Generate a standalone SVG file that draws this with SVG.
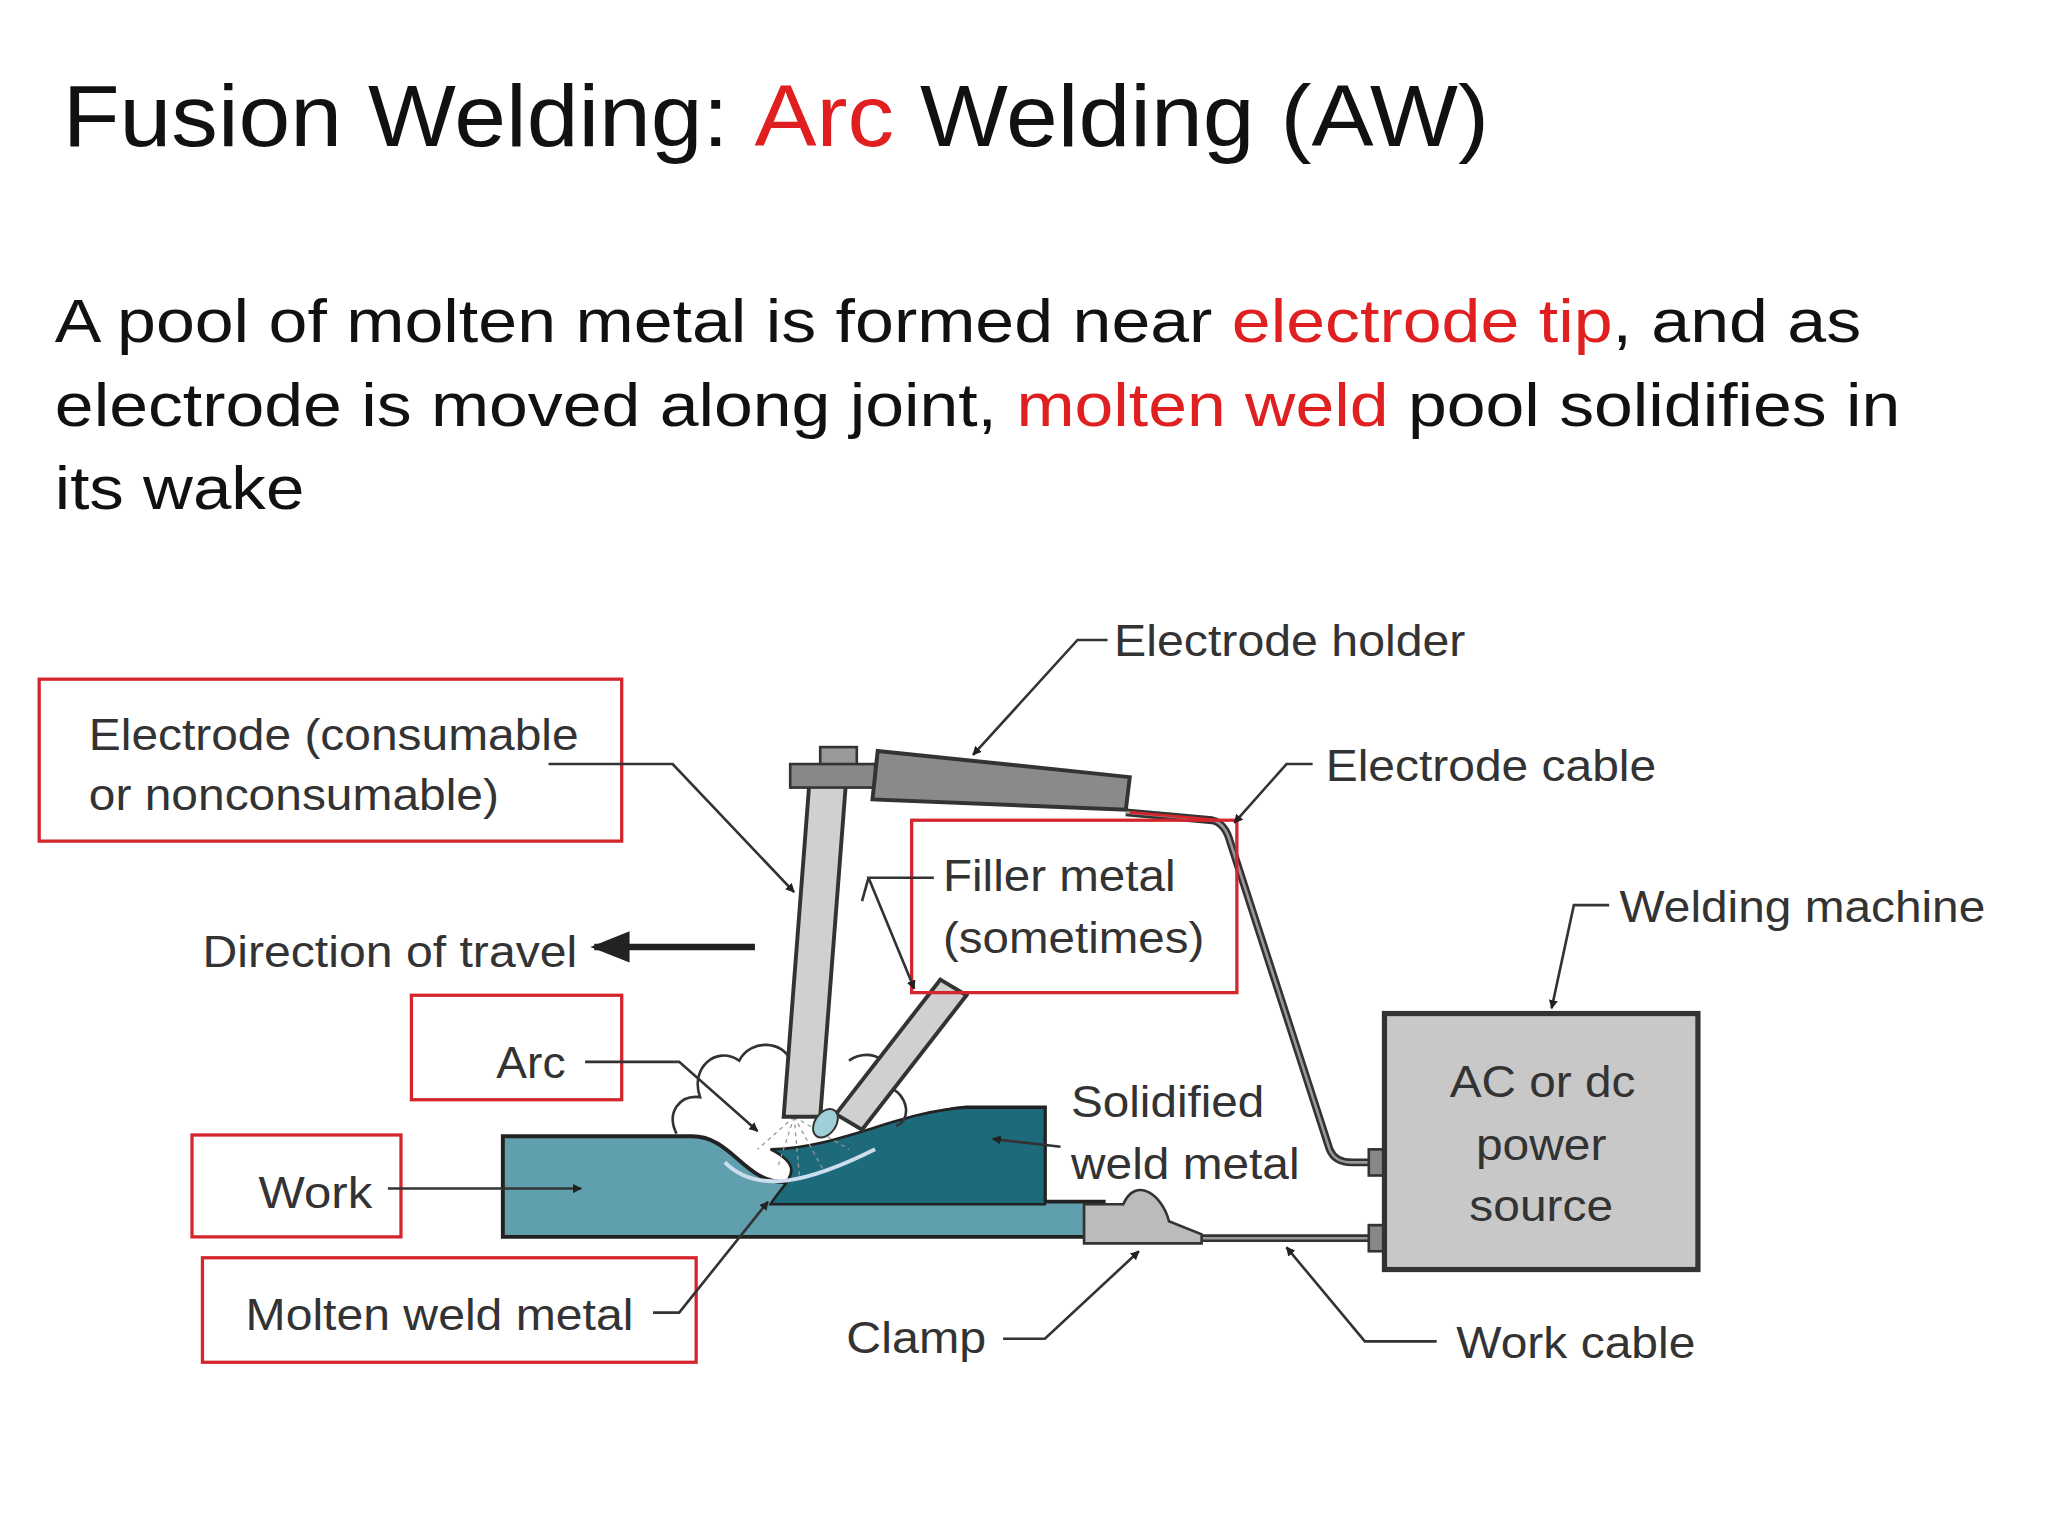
<svg xmlns="http://www.w3.org/2000/svg" width="2048" height="1536" viewBox="0 0 2048 1536">
<defs>
<marker id="ah" viewBox="0 0 10 10" refX="9" refY="5" markerWidth="7" markerHeight="7" orient="auto" markerUnits="userSpaceOnUse"><path d="M0,0 L10,5 L0,10 z" fill="#222"/></marker>
<marker id="ahb" viewBox="0 0 10 10" refX="9" refY="5" markerWidth="30" markerHeight="30" orient="auto" markerUnits="userSpaceOnUse"><path d="M0,1 L10,5 L0,9 z" fill="#222"/></marker>
</defs>
<style>
.t{font-family:"Liberation Sans",Arial,sans-serif;fill:#111}
.l{font-family:"Liberation Sans",Arial,sans-serif;fill:#333;font-size:34px}
.r{fill:#e02020}
.box{fill:none;stroke:#d4242c;stroke-width:2.5}
.ld{fill:none;stroke:#333;stroke-width:2;marker-end:url(#ah)}
.ln{fill:none;stroke:#333;stroke-width:2}
</style>
<rect width="2048" height="1536" fill="#fff"/>
<g transform="scale(1.3061)">
<text class="t" x="48" y="112" font-size="66" textLength="1092" lengthAdjust="spacingAndGlyphs">Fusion Welding: <tspan class="r">Arc</tspan> Welding (AW)</text>
<text class="t" x="42" y="262" font-size="47" textLength="1383" lengthAdjust="spacingAndGlyphs">A pool of molten metal is formed near <tspan class="r">electrode tip</tspan>, and as</text>
<text class="t" x="42" y="326" font-size="47" textLength="1413" lengthAdjust="spacingAndGlyphs">electrode is moved along joint, <tspan class="r">molten weld</tspan> pool solidifies in</text>
<text class="t" x="42" y="390" font-size="47" textLength="191" lengthAdjust="spacingAndGlyphs">its wake</text>

<g id="work">
<path d="M385,870 L530,870 C560,870 570,905 600,905 C640,905 690,850 740,848 L800,848 L800,920 L845,920 L845,947 L385,947 Z" fill="#5f9fae" stroke="#222" stroke-width="3"/>
<path d="M590,880 C640,880 690,850 740,848 L800,848 L800,922 L590,922 C600,905 620,895 590,880 Z" fill="#1d6a7a" stroke="#222" stroke-width="2"/>
<path d="M555,890 C580,915 620,905 670,880" fill="none" stroke="#cde" stroke-width="3"/>
</g>
<g id="arc">
<path d="M518,868 C510,852 520,838 536,840 C528,818 548,800 566,812 C575,795 600,797 605,812 M650,812 C668,800 688,815 680,832 C696,838 698,858 686,862" fill="none" stroke="#333" stroke-width="2"/>
<g stroke="#999" stroke-width="1" stroke-dasharray="3,3"><path d="M608,855 L580,880"/><path d="M608,855 L595,895"/><path d="M608,855 L612,900"/><path d="M608,855 L630,895"/><path d="M608,855 L650,880"/></g>
</g>
<g id="electrode">
<path d="M620,595 L648,595 L628,855 L600,855 Z" fill="#d0d0d0" stroke="#333" stroke-width="3"/>
<rect x="628" y="572" width="28" height="16" fill="#999" stroke="#333" stroke-width="2"/>
<rect x="605" y="585" width="65" height="18" fill="#888" stroke="#333" stroke-width="2"/>
</g>
<g id="holder">
<path d="M672,575 L865,595 L862,620 L668,612 Z" fill="#8a8a8a" stroke="#333" stroke-width="3"/>
</g>
<g id="filler">
<path d="M720,750 L740,762 L660,865 L640,853 Z" fill="#d0d0d0" stroke="#333" stroke-width="3"/>
<ellipse cx="632" cy="860" rx="8" ry="12" transform="rotate(35 632 860)" fill="#9fd0d8" stroke="#333" stroke-width="1.5"/>
</g>
<g id="cables">
<path d="M862,622 L928,628 Q938,630 942,645 L1018,880 Q1022,890 1035,890 L1058,890" fill="none" stroke="#333" stroke-width="6"/>
<path d="M862,622 L928,628 Q938,630 942,645 L1018,880 Q1022,890 1035,890 L1058,890" fill="none" stroke="#999" stroke-width="2"/>
<path d="M865,622 L935,628" stroke="#d4242c" stroke-width="2"/>
<path d="M915,948 L1058,948" stroke="#333" stroke-width="6"/>
<path d="M915,948 L1058,948" stroke="#999" stroke-width="2"/>
<path d="M830,922 L860,922 C870,900 890,915 895,935 L920,945 L920,952 L830,952 Z" fill="#bbb" stroke="#333" stroke-width="2"/>
<rect x="1048" y="880" width="12" height="20" fill="#888" stroke="#333" stroke-width="2"/>
<rect x="1048" y="938" width="12" height="20" fill="#888" stroke="#333" stroke-width="2"/>
</g>
<g id="machine">
<rect x="1060" y="776" width="240" height="196" fill="#c8c8c8" stroke="#333" stroke-width="4"/>
<text class="l" x="1110" y="840" textLength="142" lengthAdjust="spacingAndGlyphs">AC or dc</text>
<text class="l" x="1130" y="888" textLength="100" lengthAdjust="spacingAndGlyphs">power</text>
<text class="l" x="1125" y="935" textLength="110" lengthAdjust="spacingAndGlyphs">source</text>
</g>
<g id="labels">
<rect class="box" x="30" y="520" width="446" height="124"/>
<text class="l" x="68" y="574" textLength="375" lengthAdjust="spacingAndGlyphs">Electrode (consumable</text>
<text class="l" x="68" y="620" textLength="314" lengthAdjust="spacingAndGlyphs">or nonconsumable)</text>
<rect class="box" x="698" y="628" width="249" height="132"/>
<text class="l" x="722" y="682" textLength="178" lengthAdjust="spacingAndGlyphs">Filler metal</text>
<text class="l" x="722" y="730" textLength="200" lengthAdjust="spacingAndGlyphs">(sometimes)</text>
<rect class="box" x="315" y="762" width="161" height="80"/>
<text class="l" x="380" y="825" textLength="53" lengthAdjust="spacingAndGlyphs">Arc</text>
<rect class="box" x="147" y="869" width="160" height="78"/>
<text class="l" x="198" y="925" textLength="87" lengthAdjust="spacingAndGlyphs">Work</text>
<rect class="box" x="155" y="963" width="378" height="80"/>
<text class="l" x="188" y="1018" textLength="297" lengthAdjust="spacingAndGlyphs">Molten weld metal</text>
<text class="l" x="853" y="502" textLength="269" lengthAdjust="spacingAndGlyphs">Electrode holder</text>
<text class="l" x="1015" y="598" textLength="253" lengthAdjust="spacingAndGlyphs">Electrode cable</text>
<text class="l" x="1240" y="706" textLength="280" lengthAdjust="spacingAndGlyphs">Welding machine</text>
<text class="l" x="155" y="740" textLength="287" lengthAdjust="spacingAndGlyphs">Direction of travel</text>
<text class="l" x="820" y="855" textLength="148" lengthAdjust="spacingAndGlyphs">Solidified</text>
<text class="l" x="820" y="903" textLength="175" lengthAdjust="spacingAndGlyphs">weld metal</text>
<text class="l" x="648" y="1036" textLength="107" lengthAdjust="spacingAndGlyphs">Clamp</text>
<text class="l" x="1115" y="1040" textLength="183" lengthAdjust="spacingAndGlyphs">Work cable</text>
</g>
<g id="connectors">
<path class="ld" d="M848,490 L825,490 L745,578"/>
<path class="ld" d="M1005,585 L985,585 L945,630"/>
<path class="ld" d="M1232,693 L1205,693 L1188,772"/>
<path class="ld" d="M420,585 L515,585 L608,683"/>
<path class="ld" d="M715,672 L665,672 L700,757"/>
<path class="ln" d="M665,672 L660,690"/>
<path d="M578,725 L455,725" stroke="#222" stroke-width="5" marker-end="url(#ahb)"/>
<path class="ld" d="M448,813 L520,813 L580,866"/>
<path class="ld" d="M297,910 L445,910"/>
<path class="ld" d="M500,1005 L520,1005 L588,920"/>
<path class="ld" d="M812,878 L760,872"/>
<path class="ld" d="M768,1025 L800,1025 L872,958"/>
<path class="ld" d="M1100,1027 L1045,1027 L985,955"/>
</g>
</g>
</svg>
